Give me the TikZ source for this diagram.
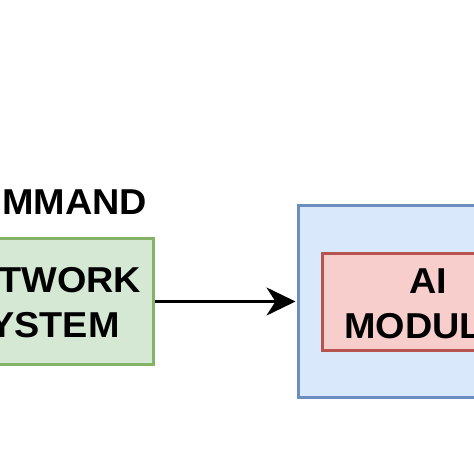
\documentclass[tikz,border=0pt]{standalone}
\usepackage{fontspec}
\usepackage{graphicx}
\setmainfont{Liberation Sans}
\usetikzlibrary{arrows.meta}
\definecolor{gfill}{HTML}{D5E8D4}
\definecolor{gdraw}{HTML}{82B366}
\definecolor{bfill}{HTML}{DAE8FC}
\definecolor{bdraw}{HTML}{6C8EBF}
\definecolor{rfill}{HTML}{F8CECC}
\definecolor{rdraw}{HTML}{B85450}
\newcommand\myxstretch[1]{\scalebox{1.05}[1]{#1}}
\tikzset{
  boxbase/.style={rectangle, line width=3pt, inner sep=0pt},
  greenbox/.style={boxbase, draw=gdraw, fill=gfill},
  bluebox/.style={boxbase, draw=bdraw, fill=bfill},
  redbox/.style={boxbase, draw=rdraw, fill=rfill},
  lbl/.style={inner sep=0pt, outer sep=0pt, font=\fontsize{36}{45}\selectfont\bfseries, text=black},
  arr/.style={line width=3pt, -{Stealth[length=29pt, width=28pt, inset=9pt]}}
}
\begin{document}
\begin{tikzpicture}[x=1pt, y=-1pt]
\useasboundingbox (0,0) rectangle (474,474);
\clip (0,0) rectangle (474,474);
\fill[white] (0,0) rectangle (474,474);
% boxes
\node[greenbox, minimum width=273.5pt, minimum height=126pt] (net) at (16.75,301.5) {};
\node[bluebox, minimum width=351.5pt, minimum height=192pt] (sys) at (474.25,301.5) {};
\node[redbox, minimum width=307.5pt, minimum height=97pt] (ai) at (476.25,302) {};
% texts
\node[lbl, anchor=base east] (cmd) at (147,214) {\myxstretch{MMAND}};
\node[lbl, anchor=base east] (net1) at (141,292) {\myxstretch{TWORK}};
\node[lbl, anchor=base east] (net2) at (119.5,337) {\myxstretch{YSTEM}};
\node[lbl, anchor=base] (ai1) at (428,293) {\myxstretch{AI}};
\node[lbl, anchor=base west] (ai2) at (344.5,338) {\myxstretch{MODUL}};
% connector
\draw[arr, shorten >=1.5pt] (net.east) -- (sys.west);
\end{tikzpicture}
\end{document}
